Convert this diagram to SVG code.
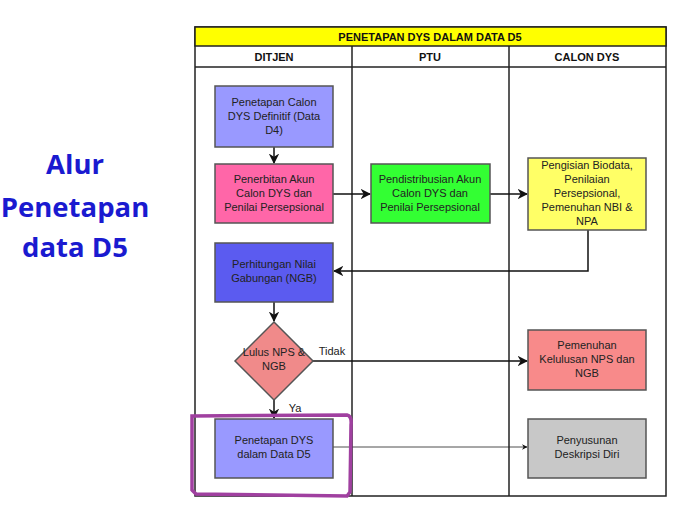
<svg xmlns="http://www.w3.org/2000/svg" width="699" height="515" viewBox="0 0 699 515">
<style>
.t{font-family:"Liberation Sans",Arial,sans-serif;font-size:11px;fill:#222;text-anchor:middle}
.h{font-family:"Liberation Sans",Arial,sans-serif;font-size:11px;font-weight:bold;fill:#111;text-anchor:middle}
.b{stroke:#555;stroke-width:1.5}
.c{fill:none;stroke:#111;stroke-width:1.5}
.big{font-family:"Open Sans","Liberation Sans",sans-serif;font-size:27.5px;font-weight:bold;fill:#1a1ad0;text-anchor:middle}
</style>
<defs><marker id="a" viewBox="0 0 10 10" refX="9" refY="5" markerWidth="7" markerHeight="7" orient="auto"><path d="M0,0L10,5L0,10L3,5z" fill="#111"/></marker></defs>
<rect width="699" height="515" fill="#fff"/>
<g id="title">
<text class="big" x="75" y="174">Alur</text>
<text class="big" x="75" y="217">Penetapan</text>
<text class="big" x="75" y="257">data D5</text>
</g>
<g id="frame">
<rect x="195" y="27" width="471" height="469" fill="#fff" stroke="#222" stroke-width="1.5"/>
<rect x="195" y="27" width="471" height="19" fill="#ffff00" stroke="#222" stroke-width="1.5"/>
<text class="h" x="430" y="41">PENETAPAN DYS DALAM DATA D5</text>
<line x1="195" y1="67" x2="666" y2="67" stroke="#222" stroke-width="1.5"/>
<line x1="352" y1="46" x2="352" y2="496" stroke="#222" stroke-width="1.5"/>
<line x1="509" y1="46" x2="509" y2="496" stroke="#222" stroke-width="1.5"/>
<text class="h" x="274" y="61">DITJEN</text>
<text class="h" x="430" y="61">PTU</text>
<text class="h" x="587" y="61">CALON DYS</text>
</g>
<g id="connectors">
<line class="c" x1="274" y1="147" x2="274" y2="163" marker-end="url(#a)"/>
<line class="c" x1="333" y1="194" x2="370" y2="194" marker-end="url(#a)"/>
<line class="c" x1="490" y1="194" x2="527" y2="194" marker-end="url(#a)"/>
<polyline class="c" points="588,230 588,271 334,271" marker-end="url(#a)"/>
<line class="c" x1="274" y1="302" x2="274" y2="321" marker-end="url(#a)"/>
<line class="c" x1="313" y1="361" x2="527" y2="361" marker-end="url(#a)"/>
<line class="c" x1="274" y1="400" x2="274" y2="418" marker-end="url(#a)"/>
<line x1="333" y1="447" x2="527" y2="447" stroke="#222" stroke-width="0.8" marker-end="url(#a)"/>
<text class="t" x="332" y="355">Tidak</text>
<text class="t" x="295" y="412">Ya</text>
</g>
<g id="n1"><rect class="b" x="215" y="86" width="118" height="61" fill="#9999ff"/>
<text class="t" x="274" y="106">Penetapan Calon</text><text class="t" x="274" y="120">DYS Definitif (Data</text><text class="t" x="274" y="134">D4)</text></g>
<g id="n2"><rect class="b" x="215" y="164" width="118" height="59" fill="#ff66a8"/>
<text class="t" x="274" y="183">Penerbitan Akun</text><text class="t" x="274" y="197">Calon DYS dan</text><text class="t" x="274" y="211">Penilai Persepsional</text></g>
<g id="n3"><rect class="b" x="371" y="164" width="119" height="59" fill="#33ff33"/>
<text class="t" x="430" y="183">Pendistribusian Akun</text><text class="t" x="430" y="197">Calon DYS dan</text><text class="t" x="430" y="211">Penilai Persepsional</text></g>
<g id="n4"><rect class="b" x="528" y="158" width="118" height="72" fill="#ffff66"/>
<text class="t" x="587" y="169">Pengisian Biodata,</text><text class="t" x="587" y="183">Penilaian</text><text class="t" x="587" y="197">Persepsional,</text><text class="t" x="587" y="211">Pemenuhan NBI &amp;</text><text class="t" x="587" y="225">NPA</text></g>
<g id="n5"><rect class="b" x="215" y="243" width="118" height="59" fill="#5b5bf0"/>
<text class="t" x="274" y="268">Perhitungan Nilai</text><text class="t" x="274" y="282">Gabungan (NGB)</text></g>
<g id="n6"><polygon class="b" points="274,322 313,361 274,400 235,361" fill="#f08a8a"/>
<text class="t" x="274" y="356">Lulus NPS &amp;</text><text class="t" x="274" y="370">NGB</text></g>
<g id="n7"><rect class="b" x="528" y="330" width="118" height="60" fill="#f88a8a"/>
<text class="t" x="587" y="349">Pemenuhan</text><text class="t" x="587" y="363">Kelulusan NPS dan</text><text class="t" x="587" y="377">NGB</text></g>
<g id="n8"><rect class="b" x="215" y="419" width="118" height="59" fill="#9999ff"/>
<text class="t" x="274" y="444">Penetapan DYS</text><text class="t" x="274" y="458">dalam Data D5</text></g>
<g id="n9"><rect class="b" x="528" y="419" width="118" height="59" fill="#c8c8c8"/>
<text class="t" x="587" y="444">Penyusunan</text><text class="t" x="587" y="458">Deskripsi Diri</text></g>
<g id="highlight"><path d="M192,416 L347,415 Q352,416 351,425 L350,492 L347,496 L196,494 L192,490 Z" fill="none" stroke="#a040a0" stroke-width="3.5"/></g>
</svg>
